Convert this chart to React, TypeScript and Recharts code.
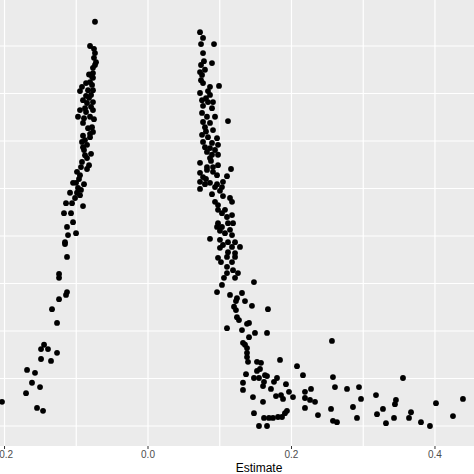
import { CartesianGrid, ReferenceLine, Scatter, ScatterChart, XAxis, YAxis } from "recharts";

// [estimate, position]
const risingBranch: [number, number][] = [
  [-0.0739, 9.51], [-0.0808, 9.0], [-0.0753, 8.94], [-0.0739, 8.85], [-0.0753, 8.75],
  [-0.0725, 8.66], [-0.0739, 8.6], [-0.0767, 8.54], [-0.0767, 8.43], [-0.078, 8.35],
  [-0.0767, 8.33], [-0.0808, 8.24], [-0.078, 8.18], [-0.092, 8.14], [-0.0864, 8.22],
  [-0.0836, 8.07], [-0.0767, 8.07], [-0.0948, 8.05], [-0.0794, 7.97], [-0.0906, 7.86],
  [-0.0822, 7.91], [-0.0767, 7.82], [-0.085, 7.8], [-0.0794, 7.72], [-0.0948, 7.65],
  [-0.0878, 7.69], [-0.0767, 7.65], [-0.0976, 7.51], [-0.0892, 7.48], [-0.0808, 7.51],
  [-0.0753, 7.46], [-0.0906, 7.38], [-0.078, 7.29], [-0.0767, 7.19], [-0.0906, 7.11],
  [-0.0808, 7.08], [-0.092, 6.98], [-0.0878, 7.02], [-0.0906, 6.87], [-0.085, 6.92],
  [-0.0892, 6.81], [-0.0794, 6.73], [-0.085, 6.64], [-0.092, 6.56], [-0.0822, 6.49],
  [-0.0934, 6.45], [-0.085, 6.41], [-0.099, 6.35], [-0.0948, 6.28], [-0.1045, 6.12],
  [-0.1003, 6.12], [-0.0892, 6.09], [-0.0976, 6.01], [-0.1087, 5.91], [-0.099, 5.91],
  [-0.0948, 5.86], [-0.1017, 5.8], [-0.1143, 5.69], [-0.1059, 5.69], [-0.0906, 5.63],
  [-0.1171, 5.48], [-0.1073, 5.48], [-0.1045, 5.29], [-0.1129, 5.19], [-0.1003, 5.06],
  [-0.1115, 5.02], [-0.1157, 4.87], [-0.1157, 4.83], [-0.1129, 4.56], [-0.124, 4.2],
  [-0.124, 4.12], [-0.1129, 3.82], [-0.1143, 3.76], [-0.124, 3.67], [-0.1338, 3.46],
  [-0.1268, 3.17], [-0.1449, 2.71], [-0.1491, 2.62], [-0.1394, 2.62], [-0.1268, 2.54],
  [-0.1491, 2.41], [-0.1352, 2.37], [-0.1686, 2.18], [-0.1575, 2.12], [-0.1617, 1.91],
  [-0.1505, 1.82], [-0.17, 1.69], [-0.2035, 1.51], [-0.1547, 1.38], [-0.1463, 1.32],
  [-0.0864, 7.61], [-0.0836, 7.27], [-0.0878, 6.7], [-0.0962, 6.2], [-0.0934, 5.97],
  [-0.0864, 7.95], [-0.0822, 8.4], [-0.0808, 7.15],
];

const fallingBranch: [number, number][] = [
  [0.0725, 9.29], [0.0767, 9.17], [0.0739, 9.04], [0.092, 9.04], [0.0767, 8.85],
  [0.078, 8.68], [0.0892, 8.64], [0.0739, 8.6], [0.0725, 8.45], [0.0753, 8.39],
  [0.0739, 8.28], [0.0767, 8.22], [0.0864, 8.14], [0.099, 8.16], [0.0836, 8.05],
  [0.0725, 8.01], [0.0864, 7.97], [0.0753, 7.86], [0.0836, 7.82], [0.0767, 7.74],
  [0.0892, 7.69], [0.0753, 7.59], [0.0822, 7.51], [0.0934, 7.51], [0.0767, 7.4],
  [0.1115, 7.42], [0.0864, 7.38], [0.0794, 7.29], [0.0906, 7.23], [0.0753, 7.13],
  [0.0836, 7.08], [0.0962, 7.06], [0.0767, 6.98], [0.0892, 6.96], [0.0976, 6.92],
  [0.0794, 6.87], [0.0864, 6.85], [0.0934, 6.81], [0.0822, 6.77], [0.0892, 6.71],
  [0.0976, 6.71], [0.0864, 6.64], [0.0725, 6.54], [0.0822, 6.45], [0.0906, 6.45],
  [0.0976, 6.49], [0.1157, 6.41], [0.0725, 6.33], [0.0822, 6.39], [0.0906, 6.35],
  [0.0767, 6.24], [0.0962, 6.28], [0.1101, 6.26], [0.0725, 6.14], [0.0794, 6.09],
  [0.0864, 6.12], [0.0962, 6.09], [0.1045, 6.14], [0.0934, 6.03], [0.1031, 6.03],
  [0.0725, 5.99], [0.0892, 5.88], [0.1045, 5.84], [0.1143, 5.8], [0.0934, 5.72],
  [0.0976, 5.65], [0.1171, 5.72], [0.0976, 5.55], [0.1073, 5.55], [0.1031, 5.48],
  [0.1171, 5.44], [0.1101, 5.4], [0.0976, 5.27], [0.0962, 5.19], [0.1031, 5.19],
  [0.1115, 5.27], [0.1185, 5.27], [0.1003, 5.11], [0.1143, 5.13], [0.1073, 5.06],
  [0.1171, 5.02], [0.0864, 4.94], [0.1003, 4.92], [0.1115, 4.87], [0.1213, 4.87],
  [0.1045, 4.81], [0.1171, 4.77], [0.1282, 4.77], [0.1003, 4.75], [0.1115, 4.66],
  [0.1213, 4.64], [0.0976, 4.54], [0.1101, 4.56], [0.1213, 4.56], [0.1017, 4.45],
  [0.1171, 4.45], [0.1101, 4.35], [0.1185, 4.28], [0.1254, 4.22], [0.1101, 4.22],
  [0.1213, 4.12], [0.1059, 4.12], [0.1477, 4.03], [0.1031, 3.97], [0.0962, 3.82],
  [0.1143, 3.76], [0.131, 3.8], [0.124, 3.69],
  [0.0808, 7.9], [0.0808, 7.2], [0.0878, 6.58], [0.0808, 6.2], [0.0906, 7.82],
  [0.0794, 8.5], [0.1003, 5.95],
];

const longTail: [number, number][] = [
  [0.1226, 3.63], [0.1352, 3.63], [0.1449, 3.53], [0.1199, 3.51], [0.1226, 3.44],
  [0.1672, 3.46], [0.124, 3.29], [0.1268, 3.23], [0.138, 3.15], [0.1408, 3.17],
  [0.1101, 3.06], [0.131, 3.02], [0.1491, 2.96], [0.1659, 2.96], [0.1408, 2.87],
  [0.1324, 2.75], [0.1352, 2.71], [0.138, 2.64], [0.138, 2.54], [0.138, 2.45],
  [0.1394, 2.35], [0.184, 2.39], [0.1519, 2.35], [0.1575, 2.33], [0.1561, 2.2],
  [0.1519, 2.16], [0.2077, 2.26], [0.1366, 2.09], [0.1631, 2.07], [0.216, 2.07],
  [0.1477, 2.01], [0.1547, 2.01], [0.1798, 2.01], [0.1659, 2.05], [0.1756, 1.93],
  [0.1324, 1.91], [0.1617, 1.93], [0.1603, 1.84], [0.1923, 1.88], [0.1714, 1.78],
  [0.1324, 1.76], [0.2272, 1.78], [0.1854, 1.65], [0.1965, 1.72], [0.2188, 1.72],
  [0.1463, 1.61], [0.1784, 1.63], [0.2021, 1.61], [0.2188, 1.59], [0.1882, 1.57],
  [0.1603, 1.51], [0.2258, 1.55], [0.2328, 1.51], [0.2188, 1.38], [0.1937, 1.32],
  [0.2551, 1.36], [0.1909, 1.27], [0.1477, 1.27], [0.2369, 1.23], [0.1617, 1.17],
  [0.1686, 1.17], [0.1742, 1.17], [0.1812, 1.19], [0.1868, 1.19], [0.1547, 1.0],
  [0.1659, 1.0], [0.2578, 1.11], [0.2634, 1.08], [0.2564, 2.79], [0.2578, 2.03],
  [0.2606, 1.82], [0.2774, 1.78], [0.2941, 1.82], [0.3554, 2.01], [0.2969, 1.57],
  [0.3178, 1.65], [0.3456, 1.55], [0.3442, 1.46], [0.2857, 1.4], [0.3275, 1.36],
  [0.3666, 1.29], [0.4014, 1.48], [0.439, 1.57], [0.2913, 1.17], [0.3192, 1.25],
  [0.3429, 1.17], [0.3638, 1.17], [0.3317, 1.06], [0.3805, 1.08], [0.393, 1.0],
  [0.4251, 1.21],
];

const xTicks = [-0.2, 0, 0.2, 0.4];
const xGridLines = [-0.2, -0.1, 0, 0.1, 0.2, 0.3, 0.4];
const yGridLines = [1, 2, 3, 4, 5, 6, 7, 8, 9];

const toPoints = (pairs: [number, number][]) =>
  pairs.map(([estimate, position]) => ({ estimate, position }));

const Dot = (props: any) => <circle cx={props.cx} cy={props.cy} r={2.9} fill="#000" />;

export default function App() {
  return (
    <div
      style={{
        position: "absolute",
        left: 0,
        top: 0,
        width: 474,
        height: 474,
        background: "#fff",
        fontFamily: '"Liberation Sans", Arial, sans-serif',
      }}
    >
      <ScatterChart width={474} height={474} margin={{ top: 0, right: 0, bottom: 0, left: 0 }}>
        <CartesianGrid horizontal={false} vertical={false} fill="#EBEBEB" stroke="none" />
        <XAxis
          type="number"
          dataKey="estimate"
          domain={[-0.2063, 0.4544]}
          allowDataOverflow
          ticks={xTicks}
          interval={0}
          tickFormatter={(v: number) => v.toFixed(1)}
          height={28}
          axisLine={false}
          tickSize={3}
          tickMargin={2}
          tickLine={{ stroke: "#333333", strokeWidth: 1 }}
          tick={{ fill: "#4D4D4D", fontSize: 10 }}
          label={{
            value: "Estimate",
            position: "insideBottom",
            offset: 2,
            dx: 22,
            fill: "#000",
            fontSize: 12,
          }}
        />
        <YAxis type="number" dataKey="position" domain={[0.579, 9.968]} allowDataOverflow hide />
        {xGridLines.map((v) => (
          <ReferenceLine key={`x${v}`} x={v} stroke="#FFFFFF" strokeWidth={1.2} />
        ))}
        {yGridLines.map((v) => (
          <ReferenceLine key={`y${v}`} y={v} stroke="#FFFFFF" strokeWidth={1.2} />
        ))}
        <Scatter data={toPoints(risingBranch)} shape={Dot} isAnimationActive={false} />
        <Scatter data={toPoints(fallingBranch)} shape={Dot} isAnimationActive={false} />
        <Scatter data={toPoints(longTail)} shape={Dot} isAnimationActive={false} />
      </ScatterChart>
    </div>
  );
}
